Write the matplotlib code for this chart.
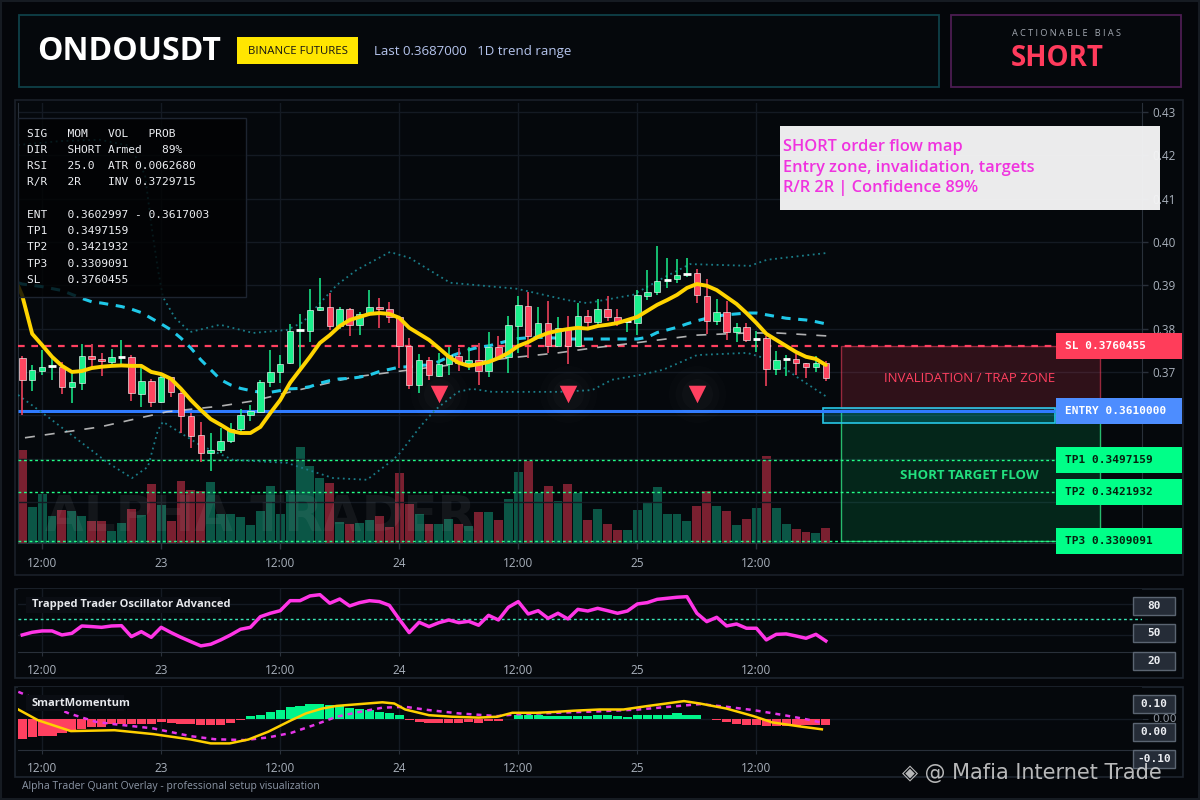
import matplotlib
matplotlib.use("Agg")
import matplotlib.pyplot as plt
from matplotlib.patches import Rectangle
import matplotlib.transforms as mtransforms
import numpy as np

# ---------------- DATA ----------------
# hourly candles, index 0 = 22nd 10:00
opens = [0.3732, 0.3682, 0.3703, 0.3714, 0.3712, 0.3666, 0.3675, 0.3737, 0.3731, 0.3724, 0.3734, 0.3734, 0.3649, 0.3679, 0.3630, 0.3688, 0.3652, 0.3599, 0.3554, 0.3512, 0.3520,
         0.3541, 0.3568, 0.3600, 0.3607, 0.3676, 0.3699, 0.3720, 0.3796, 0.3795, 0.3842, 0.3849, 0.3805, 0.3845, 0.3809, 0.3833, 0.3851, 0.3845, 0.3826, 0.3760, 0.3670,
         0.3728, 0.3691, 0.3718, 0.3737, 0.3720, 0.3728, 0.3703, 0.3757, 0.3734, 0.3806, 0.3852, 0.3784, 0.3812, 0.3761, 0.3801, 0.3761, 0.3829, 0.3816, 0.3845, 0.3828, 0.3816,
         0.3814, 0.3876, 0.3885, 0.3912, 0.3914, 0.3925, 0.3928, 0.3876, 0.3818, 0.3838, 0.3792, 0.3803, 0.3775, 0.3778, 0.3706, 0.3730, 0.3730, 0.3720, 0.3711, 0.3720]
highs = [0.3737, 0.3716, 0.3751, 0.3732, 0.3724, 0.3698, 0.3765, 0.3765, 0.3744, 0.3753, 0.3774, 0.3739, 0.3712, 0.3683, 0.3698, 0.3689, 0.3655, 0.3605, 0.3584, 0.3558, 0.3571,
         0.3582, 0.3614, 0.3624, 0.3682, 0.3751, 0.3739, 0.3811, 0.3834, 0.3892, 0.3916, 0.3882, 0.3851, 0.3847, 0.3839, 0.3889, 0.3870, 0.3862, 0.3828, 0.3778, 0.3741,
         0.3735, 0.3743, 0.3758, 0.3755, 0.3758, 0.3766, 0.3793, 0.3783, 0.3829, 0.3876, 0.3885, 0.3851, 0.3864, 0.3828, 0.3829, 0.3859, 0.3842, 0.3868, 0.3876, 0.3845, 0.3822,
         0.3889, 0.3936, 0.3991, 0.3963, 0.3960, 0.3963, 0.3937, 0.3914, 0.3868, 0.3864, 0.3812, 0.3812, 0.3795, 0.3783, 0.3748, 0.3739, 0.3742, 0.3721, 0.3737, 0.3726]
lows = [0.3601, 0.3655, 0.3693, 0.3682, 0.3649, 0.3628, 0.3658, 0.3709, 0.3691, 0.3716, 0.3712, 0.3634, 0.3618, 0.3620, 0.3628, 0.3643, 0.3558, 0.3524, 0.3491, 0.3472, 0.3513,
        0.3537, 0.3558, 0.3586, 0.3605, 0.3666, 0.3675, 0.3718, 0.3701, 0.3770, 0.3840, 0.3797, 0.3798, 0.3782, 0.3785, 0.3830, 0.3801, 0.3812, 0.3709, 0.3660, 0.3651,
        0.3682, 0.3689, 0.3693, 0.3702, 0.3705, 0.3670, 0.3689, 0.3728, 0.3698, 0.3743, 0.3732, 0.3780, 0.3743, 0.3759, 0.3718, 0.3758, 0.3797, 0.3809, 0.3818, 0.3807, 0.3793,
        0.3785, 0.3865, 0.3878, 0.3893, 0.3905, 0.3919, 0.3859, 0.3787, 0.3809, 0.3774, 0.3768, 0.3770, 0.3745, 0.3668, 0.3693, 0.3691, 0.3693, 0.3685, 0.3701, 0.3680]
closes = [0.3682, 0.3705, 0.3712, 0.3714, 0.3666, 0.3676, 0.3737, 0.3729, 0.3725, 0.3734, 0.3734, 0.3651, 0.3679, 0.3630, 0.3688, 0.3653, 0.3599, 0.3553, 0.3512, 0.3520, 0.3541,
          0.3568, 0.3600, 0.3610, 0.3676, 0.3699, 0.3718, 0.3795, 0.3796, 0.3842, 0.3849, 0.3805, 0.3845, 0.3809, 0.3833, 0.3851, 0.3845, 0.3828, 0.3760, 0.3670, 0.3728,
          0.3693, 0.3718, 0.3738, 0.3720, 0.3728, 0.3703, 0.3757, 0.3734, 0.3809, 0.3855, 0.3784, 0.3812, 0.3761, 0.3801, 0.3761, 0.3829, 0.3816, 0.3845, 0.3828, 0.3816, 0.3817,
          0.3878, 0.3884, 0.3911, 0.3912, 0.3924, 0.3925, 0.3878, 0.3818, 0.3838, 0.3792, 0.3803, 0.3774, 0.3775, 0.3706, 0.3728, 0.3730, 0.3720, 0.3711, 0.3720, 0.3687]
volumes = [9.3, 3.6, 4.9, 2.7, 3.3, 3.2, 2.7, 2.2, 2.2, 1.2, 2.0, 3.4, 2.8, 5.9, 3.8, 2.2, 6.2, 5.3, 5.2, 6.1, 2.9,
           2.9, 2.6, 1.8, 3.2, 5.7, 2.9, 5.3, 9.6, 7.7, 6.5, 6.0, 2.1, 1.9, 2.0, 2.3, 2.7, 1.6, 7.0, 3.9, 2.9,
           1.9, 1.9, 2.4, 1.9, 1.7, 3.1, 3.1, 2.3, 4.4, 7.1, 8.2, 5.0, 5.7, 4.2, 5.9, 5.0, 2.3, 3.4, 1.9, 1.3, 1.3,
           3.3, 4.0, 5.6, 2.9, 2.9, 2.2, 3.7, 5.2, 3.7, 3.2, 1.8, 2.4, 3.5, 8.7, 3.5, 1.9, 1.4, 1.1, 1.0, 1.5]

yellow_start = 0.3899  # value at the left edge
yellow_line = [0.3876, 0.3788, 0.3762, 0.3735, 0.3714, 0.3700, 0.3702, 0.3709, 0.3712, 0.3714, 0.3715, 0.3714, 0.3714, 0.3700, 0.3695, 0.3684, 0.3661, 0.3635, 0.3612, 0.3591, 0.3578,
               0.3564, 0.3559, 0.3559, 0.3573, 0.3605, 0.3635, 0.3675, 0.3705, 0.3735, 0.3767, 0.3785, 0.3806, 0.3820, 0.3827, 0.3834, 0.3836, 0.3834, 0.3825, 0.3802, 0.3788,
               0.3774, 0.3755, 0.3735, 0.3721, 0.3714, 0.3718, 0.3723, 0.3732, 0.3744, 0.3760, 0.3769, 0.3781, 0.3790, 0.3795, 0.3799, 0.3802, 0.3800, 0.3806, 0.3809, 0.3813, 0.3820,
               0.3827, 0.3841, 0.3855, 0.3866, 0.3878, 0.3894, 0.3903, 0.3899, 0.3889, 0.3873, 0.3857, 0.3836, 0.3813, 0.3788, 0.3774, 0.3760, 0.3746, 0.3735, 0.3730, 0.3716]

cyan_x = [-0.43, 0, 2, 4] + list(range(6, 82))
cyan_y = [0.3906, 0.3903, 0.3897, 0.3888,
          0.3870, 0.3862, 0.3859, 0.3855, 0.3851, 0.3845, 0.3837, 0.3824, 0.3811, 0.3797, 0.3778, 0.3755, 0.3728, 0.3705, 0.3682,
          0.3670, 0.3662, 0.3657, 0.3653, 0.3653, 0.3657, 0.3661, 0.3662, 0.3666, 0.3674, 0.3680, 0.3684, 0.3685, 0.3688, 0.3693, 0.3701, 0.3706, 0.3711, 0.3712, 0.3715,
          0.3716, 0.3724, 0.3735, 0.3743, 0.3751, 0.3757, 0.3760, 0.3766, 0.3772, 0.3777, 0.3779, 0.3780, 0.3779, 0.3778, 0.3776, 0.3776, 0.3776, 0.3776, 0.3776, 0.3776, 0.3776,
          0.3776, 0.3780, 0.3791, 0.3797, 0.3803, 0.3811, 0.3818, 0.3824, 0.3829, 0.3832, 0.3834, 0.3836, 0.3836, 0.3832, 0.3828, 0.3824, 0.3822, 0.3820, 0.3816, 0.3811]

upper_x = [-0.43, 3.80, 7.83, 10.86, 12.37, 13.08, 13.68, 14.18, 15.39, 16.91, 19.93, 23.26, 26.68, 28.30, 30.01, 31.72, 33.74, 37.07, 39.08, 43.12, 49.87, 54.91, 56.93, 61.56, 64.59, 67.31, 73.36, 75.07, 81.22]
upper_y = [0.4224, 0.4233, 0.4236, 0.4222, 0.4155, 0.4028, 0.3936, 0.3873, 0.3825, 0.3792, 0.3809, 0.3790, 0.3797, 0.3815, 0.3859, 0.3901, 0.3936, 0.3977, 0.3963, 0.3906, 0.3892, 0.3866, 0.3859, 0.3878, 0.3917, 0.3949, 0.3945, 0.3959, 0.3975]
lower_x = [-0.43, 2.59, 6.02, 8.64, 11.06, 12.67, 13.68, 14.18, 17.91, 21.24, 26.68, 31.32, 34.75, 37.37, 38.08, 40.09, 41.60, 43.92, 45.33, 47.35, 54.00, 57.43, 59.45, 62.27, 64.59, 68.02, 73.06, 74.37, 76.08, 78.10, 81.12]
lower_y = [0.3647, 0.3596, 0.3536, 0.3490, 0.3455, 0.3481, 0.3566, 0.3585, 0.3531, 0.3497, 0.3490, 0.3455, 0.3451, 0.3497, 0.3513, 0.3573, 0.3612, 0.3654, 0.3661, 0.3654, 0.3654, 0.3658, 0.3682, 0.3693, 0.3705, 0.3739, 0.3744, 0.3735, 0.3721, 0.3688, 0.3642]
trend_x = [0.27, 7.83, 14.59, 19.93, 23.26, 26.68, 30.01, 33.34, 36.76, 40.59, 48.96, 54.0, 57.43, 61.76, 68.02, 73.06, 76.08, 81.22]
trend_y = [0.3548, 0.3573, 0.3608, 0.3621, 0.3633, 0.3652, 0.3670, 0.3688, 0.3698, 0.3709, 0.3732, 0.3744, 0.3755, 0.3767, 0.3785, 0.3790, 0.3790, 0.3783]

signal_idx = [42, 55, 68]
signal_price = [0.3649, 0.3649, 0.3649]

SL = 0.3760455
ENTRY = 0.3610000
TP1 = 0.3497159
TP2 = 0.3421932
TP3 = 0.3309091
ENT_LO, ENT_HI = 0.3582, 0.3617

oscillator = [50.0, 52.6, 53.9, 53.9, 50.0, 51.6, 58.7, 58.1, 57.4, 58.7, 59.0, 48.4, 53.2, 47.7, 57.4, 52.3, 47.7, 43.5, 39.4, 41.0, 45.2,
              50.0, 55.5, 57.4, 67.7, 71.0, 73.5, 83.2, 83.2, 87.8, 89.0, 80.7, 84.8, 78.1, 81.3, 83.2, 82.3, 78.7, 65.2, 52.3, 62.3,
              58.1, 61.9, 64.5, 61.9, 63.2, 59.4, 69.0, 64.5, 76.8, 82.3, 70.3, 73.5, 66.1, 71.0, 65.5, 74.8, 73.2, 75.8, 73.5, 71.0, 73.2,
              80.0, 81.3, 84.5, 85.5, 86.5, 87.1, 71.0, 62.9, 67.1, 58.7, 60.6, 56.5, 56.5, 45.2, 50.6, 51.0, 49.0, 46.8, 50.6, 44.2]
osc_level = 65

mom_hist = [-0.069, -0.063, -0.059, -0.059, -0.048, -0.039, -0.036, -0.028, -0.028, -0.019, -0.017, -0.017, -0.017, -0.019, -0.011, -0.014, -0.017, -0.019, -0.022, -0.022, -0.022,
            -0.014, -0.006, 0.008, 0.013, 0.022, 0.030, 0.039, 0.041, 0.048, 0.048, 0.044, 0.041, 0.036, 0.031, 0.028, 0.022, 0.019, 0.011, -0.006, -0.011,
            -0.014, -0.014, -0.014, -0.014, -0.011, -0.014, -0.008, -0.008, -0.003, 0.013, 0.013, 0.011, 0.008, 0.008, 0.008, 0.008, 0.009, 0.011, 0.011, 0.009, 0.006,
            0.011, 0.011, 0.013, 0.013, 0.017, 0.013, 0.011, -0.003, -0.006, -0.013, -0.017, -0.020, -0.023, -0.026, -0.026, -0.026, -0.024, -0.023, -0.023, -0.023]
mom_line_x = [-0.4, 1.6, 4.9, 9.3, 13.2, 17.0, 19.0, 20.9, 22.8, 24.8, 27.1, 28.6, 30.2, 31.7, 34.0, 36.3, 37.5, 38.6, 41.0, 43.3, 46.0, 47.9, 49.4, 51.8, 53.7, 55.6, 58.2, 60.6, 62.9, 66.7, 68.3, 71.0, 73.7, 75.6, 78.3, 80.6]
mom_line = [0.030, -0.006, -0.042, -0.039, -0.052, -0.070, -0.083, -0.083, -0.070, -0.044, -0.006, 0.017, 0.033, 0.042, 0.048, 0.054, 0.050, 0.030, 0.011, 0.006, 0.003, 0.006, 0.019, 0.019, 0.022, 0.026, 0.030, 0.030, 0.041, 0.058, 0.050, 0.033, 0.008, -0.013, -0.026, -0.036]
mom_sig_x = [-0.4, 1.6, 4.7, 7.4, 9.3, 13.2, 17.0, 19.4, 22.4, 24.8, 27.1, 29.4, 31.7, 34.0, 36.3, 38.6, 41.0, 44.0, 47.9, 49.8, 53.7, 58.2, 62.1, 65.9, 68.3, 71.0, 73.7, 76.8, 79.1, 80.6]
mom_sig = [0.089, 0.061, 0.017, -0.011, -0.019, -0.033, -0.059, -0.069, -0.072, -0.063, -0.048, -0.022, 0.006, 0.022, 0.036, 0.039, 0.028, 0.017, 0.008, 0.014, 0.019, 0.024, 0.030, 0.041, 0.048, 0.039, 0.028, 0.011, -0.003, -0.014]

tick_pos = [2, 14, 26, 38, 50, 62, 74]
tick_labels = ["12:00", "23", "12:00", "24", "12:00", "25", "12:00"]
price_ticks = [0.33, 0.34, 0.35, 0.36, 0.37, 0.38, 0.39, 0.40, 0.41, 0.42, 0.43]

info_lines = ["SIG   MOM   VOL   PROB",
              "DIR   SHORT Armed   89%",
              "RSI   25.0  ATR 0.0062680",
              "R/R   2R    INV 0.3729715",
              "ENT   0.3602997 - 0.3617003",
              "TP1   0.3497159",
              "TP2   0.3421932",
              "TP3   0.3309091",
              "SL    0.3760455"]
note_lines = ["SHORT order flow map", "Entry zone, invalidation, targets", "R/R 2R | Confidence 89%"]

# ---------------- STYLE ----------------
BG = "#04060a"
PANEL = "#05080c"
GRID = "#141a23"
SPINE = "#29303a"
TXT = "#a9b1bc"
GREEN = "#19f08c"
RED = "#ff4560"
SANS = ["Open Sans", "DejaVu Sans"]
MONO = ["DejaVu Sans Mono"]

W, H = 1200, 800
fig = plt.figure(figsize=(12, 8), dpi=100, facecolor=BG)


def fx(x):
    return x / W


def fy(y):
    return 1 - y / H


def axes_px(x0, y0, x1, y1):
    return fig.add_axes([fx(x0), fy(y1), (x1 - x0) / W, (y1 - y0) / H])


def fig_rect(x0, y0, x1, y1, fc, ec="none", lw=1.0, z=-5):
    r = Rectangle((fx(x0), fy(y1)), (x1 - x0) / W, (y1 - y0) / H, transform=fig.transFigure,
                  fc=fc, ec=ec, lw=lw, zorder=z)
    fig.add_artist(r)
    return r


def fig_text(x, y, s, **kw):
    kw.setdefault("va", "center")
    return fig.text(fx(x), fy(y), s, **kw)


# outer border and panel frames
fig_rect(1, 1, 1199, 799, "none", ec="#161b22", lw=1.5, z=-6)
fig_rect(19, 15, 939, 87, PANEL, ec="#0e4048", lw=1.3)
fig_rect(951, 15, 1181, 87, PANEL, ec="#4d1d52", lw=1.3)
fig_rect(15, 100, 1183, 575, PANEL, ec="#1a2029", lw=1.2)
fig_rect(15, 589, 1183, 678, PANEL, ec="#1e252f", lw=1.2)
fig_rect(15, 687, 1183, 777, PANEL, ec="#1e252f", lw=1.2)

# header
fig_text(37, 51, "ONDOUSDT", color="white", fontsize=23, fontweight="bold", family=SANS)
fig_rect(237, 37, 358, 64, "#ffe600", z=2)
fig_text(297.5, 51, "BINANCE FUTURES", color="#141414", fontsize=8.2, family=SANS, ha="center", zorder=3)
fig_text(374, 51, "Last 0.3687000   1D trend range", color="#b6c5ee", fontsize=9.5, family=SANS)
fig_text(1066, 34, "A C T I O N A B L E   B I A S", color="#a3a9b2", fontsize=6.6, family=SANS, ha="center")
fig_text(1057, 58, "SHORT", color="#ff3b5c", fontsize=20, fontweight="bold", family=SANS, ha="center")

# ---------------- MAIN CHART ----------------
XL = (-0.43, 112.87)
YL = (0.3305, 0.4321)
ax = axes_px(18, 103, 1142, 543)
vax = ax.twinx()
vax.set_zorder(1)
ax.set_zorder(2)
ax.patch.set_visible(False)
vax.patch.set_facecolor(PANEL)

idx = np.arange(len(opens))
o = np.array(opens); c = np.array(closes); hi = np.array(highs); lo = np.array(lows)
up = c >= o

vcolors = ["#0b5646" if u else "#7a2030" for u in up]
vax.bar(idx, volumes, width=0.9, color=vcolors, zorder=1)
vax.set_ylim(0, 44)
vax.set_xlim(*XL)
vax.yaxis.set_visible(False)
for s in vax.spines.values():
    s.set_visible(False)

ax.set_xlim(*XL)
ax.set_ylim(*YL)

# watermark
ax.text(24, 0.3365, "ALPHA TRADER", fontsize=36, fontweight="bold", color="white", alpha=0.06,
        ha="center", va="center", family=["DejaVu Sans"], zorder=1)

# zones
ax.add_patch(Rectangle((82.5, ENT_HI), 26.1, SL - ENT_HI, fc=(1.0, 0.25, 0.37, 0.17), ec=(1.0, 0.25, 0.37, 0.55), lw=1.0, zorder=2))
ax.add_patch(Rectangle((82.5, TP3), 26.1, ENTRY - TP3, fc=(0.0, 1.0, 0.53, 0.12), ec=(0.2, 0.95, 0.55, 0.75), lw=1.0, zorder=2))
ax.add_patch(Rectangle((80.7, ENT_LO), 23.4, ENT_HI - ENT_LO, fc=(0.0, 0.74, 0.83, 0.22), ec="#27c6e6", lw=1.2, zorder=3))
ax.text(95.5, 0.3686, "INVALIDATION / TRAP ZONE", color="#ff4060", fontsize=9.5, family=SANS, ha="center", va="center", zorder=4)
ax.text(95.5, 0.3460, "SHORT TARGET FLOW", color="#22e07f", fontsize=9.5, fontweight="bold", family=SANS, ha="center", va="center", zorder=4)

# levels
ax.hlines(SL, XL[0], 104.1, colors="#ff4060", linestyles=(0, (3, 3)), lw=1.6, zorder=4)
ax.hlines(ENTRY, XL[0], 104.1, colors="#2f7bff", lw=2.2, zorder=4)
for tp in (TP1, TP2, TP3):
    ax.hlines(tp, XL[0], 104.1, colors="#22ff88", linestyles=(0, (2, 2)), lw=1.0, zorder=4)

# bands and averages
ax.plot(upper_x, upper_y, color="#1a7c88", lw=1.3, ls=(0, (1, 2)), zorder=5)
ax.plot(lower_x, lower_y, color="#1a7c88", lw=1.3, ls=(0, (1, 2)), zorder=5)
ax.plot(trend_x, trend_y, color="#cfcfcf", lw=1.2, ls=(0, (6, 6)), alpha=0.85, zorder=5)
ax.plot(cyan_x, cyan_y, color="#1fc8e8", lw=2.2, ls=(0, (3, 2.5)), zorder=5)

# candles
wick_colors = [GREEN if u else RED for u in up]
ax.vlines(idx, lo, hi, colors=wick_colors, lw=1.1, zorder=7)
doji = np.abs(c - o) < 0.00015
body_bottom = np.minimum(o, c)
body_h = np.abs(c - o)
body_colors = [GREEN if u else RED for u in up]
mask = ~doji
ax.bar(idx[mask], body_h[mask], bottom=body_bottom[mask], width=0.66,
       color=[body_colors[i] for i in idx[mask]], edgecolor=(1, 1, 1, 0.7), lw=0.6, zorder=8)
ax.hlines(((o + c) / 2)[doji], idx[doji] - 0.36, idx[doji] + 0.36, colors="white", lw=2.0, zorder=8)

# yellow line on top
ax.plot([XL[0]] + list(idx), [yellow_start] + yellow_line, color="#ffd400", lw=2.8, zorder=9, solid_capstyle="round")

# signal triangles with soft glow
for s_, a_ in ((1700, 0.012), (1000, 0.016), (500, 0.02)):
    ax.scatter(signal_idx, signal_price, s=s_, color="white", alpha=a_, lw=0, zorder=6)
ax.scatter(signal_idx, signal_price, s=160, marker="v", color="#ff4060", lw=0, zorder=10)

# axes styling
ax.yaxis.tick_right()
ax.set_yticks(price_ticks)
ax.set_yticklabels([f"{p:.2f}" if p > 0.365 else "" for p in price_ticks])
ax.set_xticks(tick_pos)
ax.set_xticklabels(tick_labels)
ax.tick_params(axis="both", colors=SPINE, labelcolor=TXT, labelsize=8.5, length=4, width=1)
ax.tick_params(axis="x", pad=6)
for lab in ax.get_xticklabels() + ax.get_yticklabels():
    lab.set_family(SANS)
ax.grid(True, color=GRID, lw=1)
ax.set_axisbelow(True)
for k, s in ax.spines.items():
    s.set_color(SPINE)
ax.spines["top"].set_visible(False)

# right price labels
blend = mtransforms.blended_transform_factory(fig.transFigure, ax.transData)
half = 13 / 4330
for yv, txt, fc, tc in ((SL, "SL 0.3760455", "#ff3d5a", "white"),
                        (ENTRY, "ENTRY 0.3610000", "#4d8dff", "white"),
                        (TP1, "TP1 0.3497159", "#00ff88", "#06220f"),
                        (TP2, "TP2 0.3421932", "#00ff88", "#06220f"),
                        (TP3, "TP3 0.3309091", "#00ff88", "#06220f")):
    ax.add_patch(Rectangle((fx(1056), yv - half), 126 / W, 2 * half, transform=blend, fc=fc, ec="none",
                           clip_on=False, zorder=12))
    ax.text(fx(1065), yv, txt, transform=blend, color=tc, fontsize=8, fontweight="bold", family=MONO,
            va="center", ha="left", clip_on=False, zorder=13)
ax.set_xlim(*XL)
ax.set_ylim(*YL)

# info box
fig_rect(18, 118, 246, 297, (0.008, 0.01, 0.016, 0.82), ec="#1d2430", lw=1.0, z=5)
info_y = [134, 150, 166, 182, 215, 231, 247, 264, 280]
for yy, line in zip(info_y, info_lines):
    fig_text(27, yy, line, color="#eceef2", fontsize=8.1, family=MONO, zorder=6)

# note box
fig_rect(780, 126, 1160, 210, (0.955, 0.955, 0.96, 0.97), z=5)
for yy, line in zip([147, 168, 188], note_lines):
    fig_text(783, yy, line, color="#f033df", fontsize=11.8, fontweight="semibold", family=SANS, zorder=6)

# ---------------- OSCILLATOR ----------------
osc = axes_px(18, 589, 1142, 652)
osc.set_facecolor(PANEL)
osc.plot(idx, oscillator, color="#ff35e6", lw=2.5, zorder=4)
osc.axhline(osc_level, color="#39e6b5", lw=1.0, ls=(0, (2, 2)), zorder=3)
osc.set_xlim(*XL)
osc.set_ylim(33.5, 94.5)
osc.set_yticks([50, 80])
osc.yaxis.set_ticks_position("none")
osc.set_yticklabels([])

# ---------------- MOMENTUM ----------------
mom = axes_px(18, 687, 1142, 750)
mom.set_facecolor(PANEL)
mh = np.array(mom_hist)
mom.bar(idx, mh, width=0.92, color=["#00f58a" if v >= 0 else "#ff4060" for v in mh], zorder=3)
mom.plot(mom_line_x, mom_line, color="#ffd000", lw=1.8, zorder=5)
mom.plot(mom_sig_x, mom_sig, color="#e535e8", lw=1.8, ls=(0, (2, 2)), zorder=4)
mom.set_xlim(*XL)
mom.set_ylim(-0.105, 0.105)
mom.yaxis.tick_right()
mom.set_yticks([0.0])
mom.set_yticklabels(["0.00"])

for a in (osc, mom):
    a.set_xticks(tick_pos)
    a.set_xticklabels(tick_labels)
    a.tick_params(axis="x", colors=SPINE, labelcolor=TXT, labelsize=8.5, length=3, pad=6)
    a.tick_params(axis="y", colors=SPINE, labelcolor="#8b939e", labelsize=8, length=4)
    for lab in a.get_xticklabels():
        lab.set_family(SANS)
    a.grid(True, color=GRID, lw=1)
    a.set_axisbelow(True)
    for k, s in a.spines.items():
        s.set_visible(k == "bottom")
        s.set_color(SPINE)

# panel titles
fig_rect(26, 597, 221, 613, "#0a0d13", z=5)
fig_text(32, 605, "Trapped Trader Oscillator Advanced", color="#e6e8ec", fontsize=8, fontweight="bold", family=SANS, zorder=6)
fig_rect(26, 695, 124, 711, "#0a0d13", z=5)
fig_text(32, 703, "SmartMomentum", color="#e6e8ec", fontsize=8, fontweight="bold", family=SANS, zorder=6)

# right value boxes
for yy, t in ((606, "80"), (633, "50"), (661, "20"), (704, "0.10"), (732, "0.00"), (759, "-0.10")):
    fig_rect(1133, yy - 9, 1175, yy + 9, "#252c37", ec="#5b6572", lw=1.0, z=5)
    fig_text(1154, yy, t, color="#eceef2", fontsize=8, fontweight="bold", family=MONO, ha="center", zorder=6)

# footer
fig_text(22, 787, "Alpha Trader Quant Overlay - professional setup visualization", color="#8c96a6", fontsize=7.5, family=SANS)
fig_text(902, 773, "\u25c8 @ Mafia Internet Trade", color="#d8d8d8", alpha=0.85, fontsize=15, family=["DejaVu Sans"], zorder=7)

fig.savefig("out.png", dpi=100, facecolor=BG)
